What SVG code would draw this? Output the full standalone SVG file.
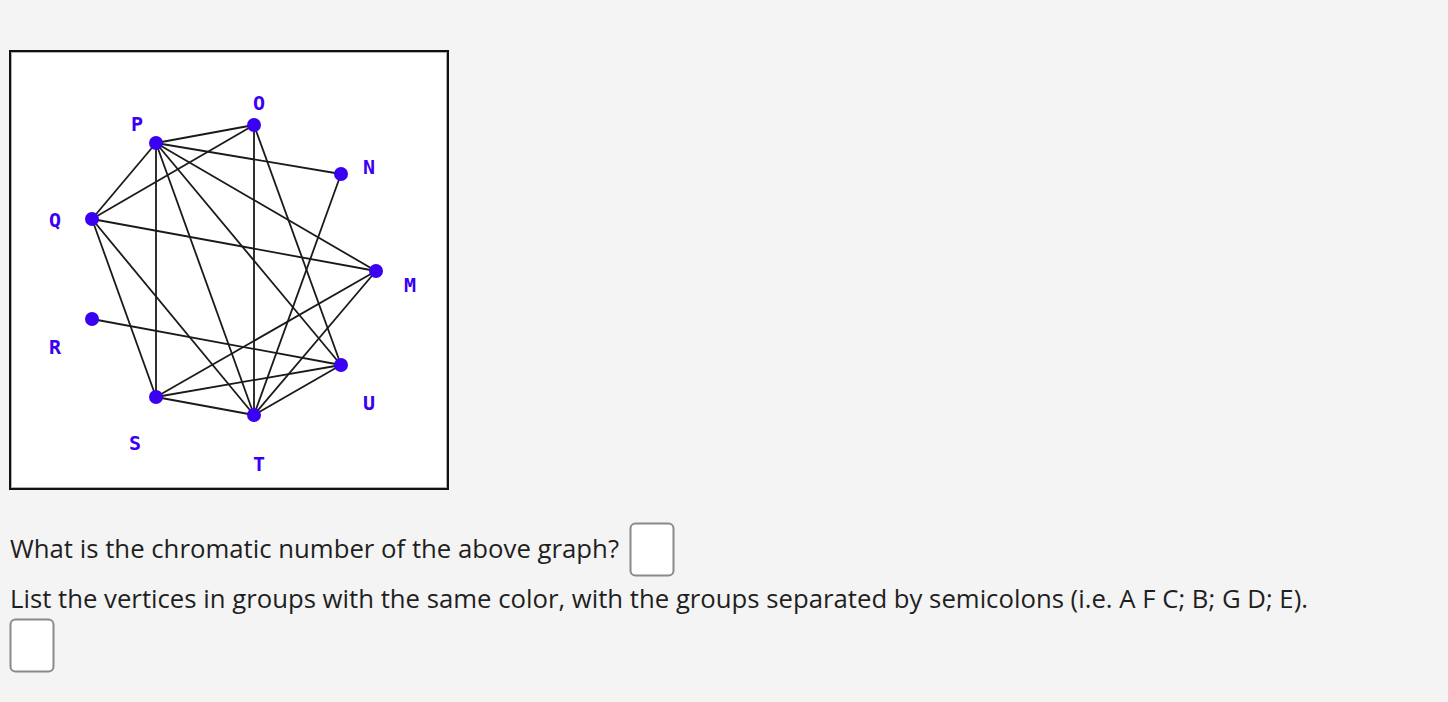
<svg xmlns="http://www.w3.org/2000/svg" width="1448" height="702" viewBox="0 0 1448 702">
<style>
.edge{stroke:#1a1a1a;stroke-width:1.8;fill:none}
.node circle{fill:#3a00f2}
.lbl{font-family:"DejaVu Sans Mono","Liberation Mono",monospace;font-weight:bold;font-size:20px;fill:#3a00f2;text-anchor:middle}
.q{font-family:"Open Sans","Noto Sans","Liberation Sans",sans-serif;font-size:25px;fill:#1f1f1f}
.box{fill:#ffffff;stroke:#8a8a8a;stroke-width:2}
</style>
<rect width="1448" height="702" fill="#f4f4f4"/>
<rect x="10" y="51" width="438" height="438" fill="#ffffff" stroke="#111" stroke-width="2"/>
<rect x="11.5" y="52.5" width="435" height="435" fill="none" stroke="#b0b0b0" stroke-width="1"/>
<g id="connectors">
<line class="edge" x1="156" y1="143" x2="254" y2="125"/>
<line class="edge" x1="156" y1="143" x2="341" y2="174"/>
<line class="edge" x1="156" y1="143" x2="92" y2="219"/>
<line class="edge" x1="156" y1="143" x2="156" y2="397"/>
<line class="edge" x1="156" y1="143" x2="254" y2="415"/>
<line class="edge" x1="156" y1="143" x2="376" y2="271"/>
<line class="edge" x1="156" y1="143" x2="341" y2="365"/>
<line class="edge" x1="254" y1="125" x2="92" y2="219"/>
<line class="edge" x1="254" y1="125" x2="254" y2="415"/>
<line class="edge" x1="254" y1="125" x2="341" y2="365"/>
<line class="edge" x1="341" y1="174" x2="254" y2="415"/>
<line class="edge" x1="92" y1="219" x2="376" y2="271"/>
<line class="edge" x1="92" y1="219" x2="156" y2="397"/>
<line class="edge" x1="92" y1="219" x2="254" y2="415"/>
<line class="edge" x1="92" y1="319" x2="341" y2="365"/>
<line class="edge" x1="376" y1="271" x2="156" y2="397"/>
<line class="edge" x1="376" y1="271" x2="254" y2="415"/>
<line class="edge" x1="341" y1="365" x2="156" y2="397"/>
<line class="edge" x1="341" y1="365" x2="254" y2="415"/>
<line class="edge" x1="156" y1="397" x2="254" y2="415"/>
</g>
<g id="node-O" class="node"><circle cx="254" cy="125" r="7"/><text class="lbl" x="259" y="110">O</text></g>
<g id="node-P" class="node"><circle cx="156" cy="143" r="7"/><text class="lbl" x="137" y="131">P</text></g>
<g id="node-N" class="node"><circle cx="341" cy="174" r="7"/><text class="lbl" x="369" y="174">N</text></g>
<g id="node-Q" class="node"><circle cx="92" cy="219" r="7"/><text class="lbl" x="55" y="227">Q</text></g>
<g id="node-M" class="node"><circle cx="376" cy="271" r="7"/><text class="lbl" x="410" y="292">M</text></g>
<g id="node-R" class="node"><circle cx="92" cy="319" r="7"/><text class="lbl" x="55" y="354">R</text></g>
<g id="node-U" class="node"><circle cx="341" cy="365" r="7"/><text class="lbl" x="369" y="410">U</text></g>
<g id="node-S" class="node"><circle cx="156" cy="397" r="7"/><text class="lbl" x="135" y="450">S</text></g>
<g id="node-T" class="node"><circle cx="254" cy="415" r="7"/><text class="lbl" x="259" y="471">T</text></g>
<text class="q" x="10" y="558" textLength="609" lengthAdjust="spacingAndGlyphs">What is the chromatic number of the above graph?</text>
<rect class="box" x="630.5" y="523.5" width="43" height="52" rx="5"/>
<text class="q" x="10" y="608" textLength="1298" lengthAdjust="spacingAndGlyphs">List the vertices in groups with the same color, with the groups separated by semicolons (i.e. A F C; B; G D; E).</text>
<rect class="box" x="10.5" y="619.5" width="43" height="52" rx="5"/>
</svg>
